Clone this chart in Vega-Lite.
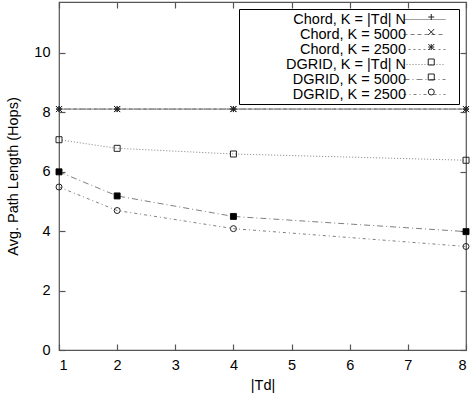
{
  "$schema": "https://vega.github.io/schema/vega-lite/v6.json",
  "width": 407,
  "height": 348,
  "autosize": {"type": "none"},
  "padding": {"left": 59, "top": 2, "right": 8, "bottom": 47},
  "background": "white",
  "config": {
    "font": "Liberation Sans",
    "view": {"stroke": "#555", "strokeWidth": 1.2},
    "axis": {"labelFont": "Liberation Sans", "titleFont": "Liberation Sans", "labelFontSize": 14.5, "titleFontSize": 14.5, "labelColor": "black", "titleColor": "black", "titleFontWeight": "normal", "grid": false, "domain": false, "tickColor": "#555", "tickSize": -6, "tickWidth": 1.2}
  },
  "data": {"values": [
    {"series": "Chord, K = |Td| N", "td": 1, "hops": 8.1},
    {"series": "Chord, K = |Td| N", "td": 2, "hops": 8.1},
    {"series": "Chord, K = |Td| N", "td": 4, "hops": 8.1},
    {"series": "Chord, K = |Td| N", "td": 8, "hops": 8.1},
    {"series": "Chord, K = 5000", "td": 1, "hops": 8.1},
    {"series": "Chord, K = 5000", "td": 2, "hops": 8.1},
    {"series": "Chord, K = 5000", "td": 4, "hops": 8.1},
    {"series": "Chord, K = 5000", "td": 8, "hops": 8.1},
    {"series": "Chord, K = 2500", "td": 1, "hops": 8.1},
    {"series": "Chord, K = 2500", "td": 2, "hops": 8.1},
    {"series": "Chord, K = 2500", "td": 4, "hops": 8.1},
    {"series": "Chord, K = 2500", "td": 8, "hops": 8.1},
    {"series": "DGRID, K = |Td| N", "td": 1, "hops": 7.07},
    {"series": "DGRID, K = |Td| N", "td": 2, "hops": 6.78},
    {"series": "DGRID, K = |Td| N", "td": 4, "hops": 6.59},
    {"series": "DGRID, K = |Td| N", "td": 8, "hops": 6.38},
    {"series": "DGRID, K = 5000", "td": 1, "hops": 5.99},
    {"series": "DGRID, K = 5000", "td": 2, "hops": 5.18},
    {"series": "DGRID, K = 5000", "td": 4, "hops": 4.49},
    {"series": "DGRID, K = 5000", "td": 8, "hops": 3.98},
    {"series": "DGRID, K = 2500", "td": 1, "hops": 5.48},
    {"series": "DGRID, K = 2500", "td": 2, "hops": 4.69},
    {"series": "DGRID, K = 2500", "td": 4, "hops": 4.08},
    {"series": "DGRID, K = 2500", "td": 8, "hops": 3.48}
  ]},
  "layer": [
    {
      "mark": {"type": "line", "strokeWidth": 1, "color": "#808080"},
      "encoding": {
        "x": {"field": "td", "type": "quantitative", "scale": {"domain": [1, 8], "nice": false, "zero": false},
              "axis": {"orient": "bottom", "values": [1,2,3,4,5,6,7,8], "title": "|Td|", "labelPadding": 14, "titlePadding": 7}},
        "y": {"field": "hops", "type": "quantitative", "scale": {"domain": [0, 11.7], "nice": false},
              "axis": {"orient": "left", "values": [0,2,4,6,8,10], "title": "Avg. Path Length (Hops)", "labelPadding": 15, "titlePadding": 13}},
        "strokeDash": {"field": "series", "type": "nominal",
          "scale": {"domain": ["Chord, K = |Td| N", "Chord, K = 5000", "Chord, K = 2500", "DGRID, K = |Td| N", "DGRID, K = 5000", "DGRID, K = 2500"],
                    "range": [[1,0], [4,3], [2,3], [1,2], [6,3,1,3], [3,3,1,3]]},
          "legend": {"orient": "top-right", "offset": 7, "title": "·", "titleOrient": "right", "titleFontSize": 1, "titleOpacity": 0, "titlePadding": 8.3,
            "padding": 2.5, "strokeColor": "black", "cornerRadius": 0,
            "labelFont": "Liberation Sans", "labelFontSize": 14.5, "labelColor": "black", "labelAlign": "right", "labelLimit": 300,
            "symbolType": "M-23.9,0M-2.8,0H2.8", "symbolSize": 225, "symbolStrokeColor": "#808080", "symbolStrokeWidth": 1,
            "symbolOffset": 175, "labelOffset": -26.5, "rowPadding": 0}
        }
      }
    },
    {
      "mark": {"type": "point", "size": 36, "strokeWidth": 1, "stroke": "#222", "filled": false, "opacity": 1},
      "encoding": {
        "x": {"field": "td", "type": "quantitative", "axis": {"orient": "top", "values": [1,2,3,4,5,6,7,8], "labels": false, "title": null}},
        "y": {"field": "hops", "type": "quantitative", "axis": {"orient": "right", "values": [0,2,4,6,8,10], "labels": false, "title": null}},
        "shape": {"field": "series", "type": "nominal",
          "scale": {"domain": ["Chord, K = |Td| N", "Chord, K = 5000", "Chord, K = 2500", "DGRID, K = |Td| N", "DGRID, K = 5000", "DGRID, K = 2500"],
                    "range": ["M-1,0H1M0,-1V1", "M-1,-1L1,1M-1,1L1,-1", "M-1,-1L1,1M-1,1L1,-1M-1,0H1M0,-1V1", "square", "square", "circle"]},
          "legend": {"orient": "none", "legendX": 365, "legendY": 7.5, "title": null, "padding": 0,
            "labelOpacity": 0, "labelFontSize": 14.5, "labelLimit": 1, "symbolSize": 36, "symbolStrokeColor": "#222", "symbolStrokeWidth": 1,
            "symbolOffset": 0, "clipHeight": 15, "rowPadding": -1,
            "encode": {"symbols": {"update": {
              "fill": {"signal": "datum.value === 'DGRID, K = 5000' ? '#000' : 'white'"}}}}}
        }
      }
    },
    {
      "transform": [{"filter": "datum.series === 'DGRID, K = 5000'"}],
      "mark": {"type": "point", "shape": "square", "size": 36, "filled": true, "color": "#000", "opacity": 1},
      "encoding": {
        "x": {"field": "td", "type": "quantitative", "axis": null},
        "y": {"field": "hops", "type": "quantitative", "axis": null}
      }
    }
  ],
  "resolve": {"axis": {"x": "independent", "y": "independent"}}
}
